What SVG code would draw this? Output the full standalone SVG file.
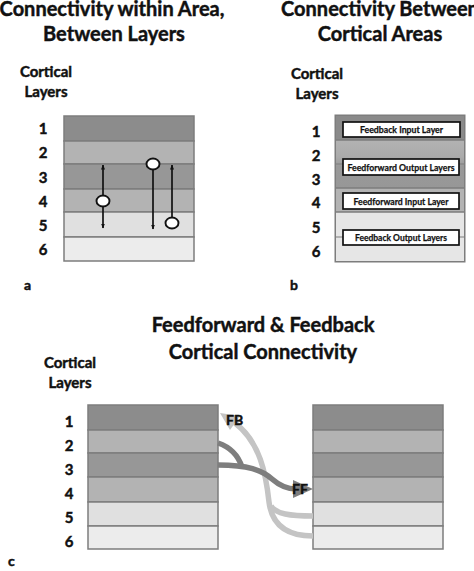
<svg xmlns="http://www.w3.org/2000/svg" width="474" height="571" viewBox="0 0 474 571">
<defs>
<style>
.t{font-family:Lato,"Open Sans","Liberation Sans",sans-serif;font-weight:bold;fill:#111;stroke:#111;stroke-width:0.45}
.title{font-size:20px;text-anchor:middle}
.cl{font-size:15px;text-anchor:middle}
.num{font-size:15px;text-anchor:middle}
.pl{font-size:14px}
.bx{font-size:9.4px;text-anchor:middle;stroke-width:0.25}
.lay{stroke:#7d7d7d;stroke-width:1.5}
.l1{fill:#8c8c8c}.l2{fill:#b3b3b3}.l3{fill:#979797}.l4{fill:#b3b3b3}.l5{fill:#e0e0e0}.l6{fill:#ececec}
.box{fill:#fff;stroke:#111;stroke-width:1.7}
.ar{stroke:#111;stroke-width:1.7;fill:none}
.nd{fill:#fff;stroke:#111;stroke-width:1.9}
.ff{stroke:#7e7e7e;stroke-width:5.5;fill:none}
.fb{stroke:#c4c4c4;stroke-width:5.5;fill:none}
</style>
<marker id="ah" viewBox="0 0 10 10" refX="9" refY="5" markerWidth="5" markerHeight="5" orient="auto-start-reverse" markerUnits="userSpaceOnUse">
<path d="M0,1 L10,5 L0,9 Z" fill="#111"/>
</marker>
<linearGradient id="g23" x1="0" y1="0" x2="0" y2="1">
<stop offset="0" stop-color="#b3b3b3"/>
<stop offset="0.35" stop-color="#aaaaaa"/>
<stop offset="0.55" stop-color="#999999"/>
<stop offset="1" stop-color="#979797"/>
</linearGradient>
</defs>
<rect width="474" height="571" fill="#fff"/>

<!-- Panel a -->
<g id="panel-a">
<text class="t title" x="112" y="16">Connectivity within Area,</text>
<text class="t title" x="114" y="41">Between Layers</text>
<text class="t cl" x="46" y="77">Cortical</text>
<text class="t cl" x="46" y="97">Layers</text>
<g id="a-stack">
<rect class="lay l1" x="64" y="116" width="130" height="25"/>
<rect class="lay l2" x="64" y="141" width="130" height="23"/>
<rect class="lay l3" x="64" y="164" width="130" height="25"/>
<rect class="lay l4" x="64" y="189" width="130" height="23"/>
<rect class="lay l5" x="64" y="212" width="130" height="25"/>
<rect class="lay l6" x="64" y="237" width="130" height="24"/>
</g>
<text class="t num" x="43" y="134">1</text>
<text class="t num" x="43" y="158">2</text>
<text class="t num" x="43" y="183">3</text>
<text class="t num" x="43" y="207">4</text>
<text class="t num" x="43" y="231">5</text>
<text class="t num" x="43" y="255">6</text>
<text class="t pl" x="24" y="290">a</text>
</g>

<g id="a-connectors">
<line class="ar" x1="103" y1="196" x2="103" y2="165" marker-end="url(#ah)"/>
<line class="ar" x1="103" y1="206" x2="103" y2="228" marker-end="url(#ah)"/>
<line class="ar" x1="153" y1="169" x2="153" y2="229" marker-end="url(#ah)"/>
<line class="ar" x1="172" y1="218" x2="172" y2="165" marker-end="url(#ah)"/>
</g>
<g id="a-nodes">
<ellipse id="a-n1" class="nd" cx="103" cy="201" rx="6.5" ry="5.5"/>
<ellipse id="a-n2" class="nd" cx="153" cy="164" rx="6.5" ry="5.5"/>
<ellipse id="a-n3" class="nd" cx="172" cy="223" rx="6.5" ry="5.5"/>
</g>

<!-- Panel b -->
<g id="panel-b">
<text class="t title" x="380" y="16">Connectivity Between</text>
<text class="t title" x="380" y="41">Cortical Areas</text>
<text class="t cl" x="317" y="79">Cortical</text>
<text class="t cl" x="317" y="99">Layers</text>
<g id="b-stack">
<rect x="335.5" y="115.5" width="129" height="146" fill="none" stroke="#7d7d7d" stroke-width="2"/>
<rect x="336" y="116" width="128" height="24" fill="#8a8a8a"/>
<rect x="336" y="140" width="128" height="48" fill="url(#g23)"/>
<rect x="336" y="188" width="128" height="24" fill="#b3b3b3"/>
<rect x="336" y="212" width="128" height="49" fill="#e6e6e6"/>
<line x1="336" y1="140" x2="464" y2="140" stroke="#7d7d7d" stroke-width="1.5"/>
<line x1="336" y1="188" x2="464" y2="188" stroke="#7d7d7d" stroke-width="1.5"/>
<line x1="336" y1="212" x2="464" y2="212" stroke="#7d7d7d" stroke-width="1.5"/>
<line x1="336" y1="164" x2="464" y2="164" stroke="#7d7d7d" stroke-width="1"/>
<line x1="336" y1="237" x2="464" y2="237" stroke="#7d7d7d" stroke-width="1"/>
</g>
<g id="b-box1"><rect class="box" x="343" y="122" width="117" height="15"/><text class="t bx" x="401.5" y="133" textLength="83" lengthAdjust="spacingAndGlyphs">Feedback Input Layer</text></g>
<g id="b-box2"><rect class="box" x="343" y="159" width="116" height="16"/><text class="t bx" x="401" y="170.5" textLength="107" lengthAdjust="spacingAndGlyphs">Feedforward Output Layers</text></g>
<g id="b-box3"><rect class="box" x="343" y="193" width="116" height="16"/><text class="t bx" x="401" y="204.5" textLength="95" lengthAdjust="spacingAndGlyphs">Feedforward Input Layer</text></g>
<g id="b-box4"><rect class="box" x="343" y="230" width="116" height="15"/><text class="t bx" x="401" y="241" textLength="92" lengthAdjust="spacingAndGlyphs">Feedback Output Layers</text></g>
<text class="t num" x="316" y="137">1</text>
<text class="t num" x="316" y="161">2</text>
<text class="t num" x="316" y="185">3</text>
<text class="t num" x="316" y="208">4</text>
<text class="t num" x="316" y="233">5</text>
<text class="t num" x="316" y="257">6</text>
<text class="t pl" x="290" y="290">b</text>
</g>

<!-- Panel c -->
<g id="panel-c">
<text class="t title" x="263" y="332">Feedforward &amp; Feedback</text>
<text class="t title" x="263" y="359">Cortical Connectivity</text>
<text class="t cl" x="70" y="368">Cortical</text>
<text class="t cl" x="70" y="388">Layers</text>
<g id="c-left-stack">
<rect class="lay l1" x="88" y="405" width="130" height="25"/>
<rect class="lay l2" x="88" y="430" width="130" height="23"/>
<rect class="lay l3" x="88" y="453" width="130" height="24"/>
<rect class="lay l4" x="88" y="477" width="130" height="25"/>
<rect class="lay l5" x="88" y="502" width="130" height="24"/>
<rect class="lay l6" x="88" y="526" width="130" height="23"/>
</g>
<g id="c-right-stack">
<rect class="lay l1" x="313" y="405" width="130" height="25"/>
<rect class="lay l2" x="313" y="430" width="130" height="23"/>
<rect class="lay l3" x="313" y="453" width="130" height="24"/>
<rect class="lay l4" x="313" y="477" width="130" height="25"/>
<rect class="lay l5" x="313" y="502" width="130" height="24"/>
<rect class="lay l6" x="313" y="526" width="130" height="23"/>
</g>
<text class="t num" x="69" y="427">1</text>
<text class="t num" x="69" y="451">2</text>
<text class="t num" x="69" y="475">3</text>
<text class="t num" x="69" y="499">4</text>
<text class="t num" x="69" y="523">5</text>
<text class="t num" x="69" y="547">6</text>
<text class="t pl" x="8" y="566">c</text>
</g>

<g id="c-connectors">
<path class="fb" d="M313,536 C288,536 272,526 269,502 C266,474 260,442 235,423"/>
<path class="fb" d="M313,516 C290,516 276,514 271,506"/>
<path d="M220,413 L240,416 L230,430 Z" fill="#c4c4c4"/>
<path class="ff" d="M218,443 C230,447 238,455 242,467"/>
<path class="ff" d="M218,465 C248,465 262,470 272,479 C280,486 288,489 296,489"/>
<path d="M293,480 L313,489 L293,498 Z" fill="#7e7e7e"/>
<text class="t" x="226" y="425" font-size="14">FB</text>
<text class="t" x="292" y="494" font-size="14">FF</text>
</g>
</svg>
